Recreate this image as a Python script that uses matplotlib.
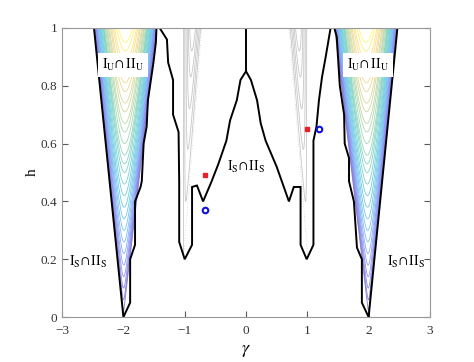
import numpy as np
import matplotlib
matplotlib.use("Agg")
import matplotlib.pyplot as plt
from matplotlib.colors import LinearSegmentedColormap

plt.rcParams['font.family'] = ['Liberation Serif', 'DejaVu Serif']
plt.rcParams['mathtext.fontset'] = 'stix'

# --- data -----------------------------------------------------------------
# V-shaped regions with contour lines: apex (gamma, h), edges at h = 1
spike_apex_g = [-2.0, 2.0, -1.02, 1.01]
spike_apex_h = [0.0, 0.0, 0.20, 0.20]
spike_left_top = [-2.48, 1.44, -1.02, 0.70]
spike_right_top = [-1.45, 2.47, -0.72, 1.01]

# heights where the nested U-shaped contours bottom out
colour_levels = [0.02, 0.06, 0.10, 0.14, 0.18, 0.22, 0.26, 0.30, 0.34, 0.38,
                 0.42, 0.46, 0.50, 0.53, 0.56, 0.60, 0.64, 0.67, 0.71, 0.74,
                 0.78, 0.81, 0.85, 0.88, 0.92, 0.95]
grey_levels = [0.21, 0.40, 0.58, 0.72, 0.83, 0.92]

# black stability boundaries
left_v_g = [-2.48, -2.0, -1.89, -1.89, -1.81, -1.81, -1.72, -1.70, -1.67, -1.62,
            -1.60, -1.51, -1.47, -1.46]
left_v_h = [1.0, 0.0, 0.05, 0.20, 0.25, 0.40, 0.45, 0.47, 0.60, 0.66,
            0.75, 0.88, 0.95, 1.0]
middle_g = [-1.41, -1.29, -1.27, -1.19, -1.19, -1.10, -1.09, -1.09, -1.0, -0.88,
            -0.88, -0.80, -0.70, -0.56, -0.45, -0.32, -0.26, -0.15, -0.09, 0.0,
            0.08, 0.18, 0.24, 0.32, 0.50, 0.70, 0.78, 0.89, 0.89, 0.99,
            1.10, 1.10, 1.15, 1.19, 1.24, 1.30, 1.38]
middle_h = [1.0, 0.96, 0.88, 0.82, 0.70, 0.64, 0.47, 0.26, 0.20, 0.25,
            0.45, 0.455, 0.40, 0.47, 0.53, 0.61, 0.68, 0.75, 0.82, 0.85,
            0.82, 0.75, 0.67, 0.61, 0.52, 0.40, 0.45, 0.45, 0.25, 0.20,
            0.25, 0.61, 0.66, 0.75, 0.83, 0.90, 1.0]
centre_g = [0.0, 0.0]
centre_h = [0.85, 1.0]
right_v_g = [1.44, 1.48, 1.50, 1.53, 1.60, 1.61, 1.68, 1.68, 1.76, 1.81,
             1.89, 1.89, 2.0, 2.47]
right_v_h = [1.0, 0.97, 0.90, 0.80, 0.70, 0.60, 0.55, 0.47, 0.40, 0.24,
             0.20, 0.05, 0.0, 1.0]

red_g = [-0.67, 0.99]
red_h = [0.49, 0.65]
blue_g = [-0.67, 1.19]
blue_h = [0.37, 0.65]

labels = [r'$\mathrm{I_U\!\cap II_U}$', r'$\mathrm{I_U\!\cap II_U}$',
          r'$\mathrm{I_S\!\cap II_S}$', r'$\mathrm{I_S\!\cap II_S}$',
          r'$\mathrm{I_S\!\cap II_S}$']
label_g = [-2.0, 1.99, 0.0, -2.58, 2.61]
label_h = [0.872, 0.872, 0.52, 0.19, 0.19]
label_box = [True, True, False, False, False]

# parula-like colour map
parula = LinearSegmentedColormap.from_list('parula', [
    (0.24, 0.15, 0.66), (0.28, 0.32, 0.96), (0.15, 0.59, 0.92),
    (0.03, 0.68, 0.80), (0.20, 0.72, 0.63), (0.45, 0.75, 0.50),
    (0.75, 0.74, 0.34), (0.98, 0.75, 0.24), (0.98, 0.98, 0.08)])


def spike_field(G, H, k):
    """Field whose level sets are nested U shapes inside spike k."""
    g0, h0 = spike_apex_g[k], spike_apex_h[k]
    t = np.clip((H - h0) / (1.0 - h0), 0, None)
    left = g0 + (spike_left_top[k] - g0) * t
    right = g0 + (spike_right_top[k] - g0) * t
    cm = (left + right) / 2
    hw = (right - left) / 2
    with np.errstate(divide='ignore', invalid='ignore'):
        r = (G - cm) / hw
        F = h0 + (H - h0) * (1 - r ** 2)
    F[(np.abs(r) >= 1) | (H <= h0) | ~np.isfinite(r)] = np.nan
    return F


g = np.linspace(-3, 3, 1801)
h = np.linspace(0, 1, 601)
G, H = np.meshgrid(g, h)

fig = plt.figure(figsize=(4.74, 3.62), dpi=100)
ax = fig.add_axes([0.131, 0.124, 0.776, 0.799])

cols = parula(np.linspace(0, 1, len(colour_levels)))
for k in (0, 1):
    ax.contour(G, H, spike_field(G, H, k), levels=colour_levels,
               colors=cols, linewidths=0.6, alpha=0.6)
for k in (2, 3):
    ax.contour(G, H, spike_field(G, H, k), levels=grey_levels,
               colors='0.78', linewidths=0.6)

for xs, ys in [(left_v_g, left_v_h), (middle_g, middle_h),
               (centre_g, centre_h), (right_v_g, right_v_h)]:
    ax.plot(xs, ys, color='black', lw=1.4, solid_joinstyle='miter')

ax.plot(red_g, red_h, 's', color='#e8202a', ms=3, mec='#e8202a')
ax.plot(blue_g, blue_h, 'o', mfc='none', mec='#1010e0', ms=4, mew=1.5)

for txt, x, y, box in zip(labels, label_g, label_h, label_box):
    kw = {}
    if box:
        kw['bbox'] = dict(facecolor='white', edgecolor='none', pad=3)
    ax.text(x, y, txt, ha='center', va='center', fontsize=10, **kw)

ax.set_xlim(-3, 3)
ax.set_ylim(0, 1)
ax.set_xticks([-3, -2, -1, 0, 1, 2, 3])
ax.set_yticks([0, 0.2, 0.4, 0.6, 0.8, 1])
ax.set_yticklabels(['0', '0.2', '0.4', '0.6', '0.8', '1'])
ax.tick_params(direction='in', length=4, labelsize=9.5, colors='0.35',
               labelcolor='0.2', top=False, right=True, labelright=False)
ax.tick_params(axis='x', pad=6)
for sp in ax.spines.values():
    sp.set_color('0.6')
    sp.set_linewidth(0.8)
ax.set_xlabel(r'$\gamma$', fontsize=13, labelpad=3)
ax.set_ylabel('h', fontsize=11, labelpad=1)

fig.savefig('out.png', dpi=100)
